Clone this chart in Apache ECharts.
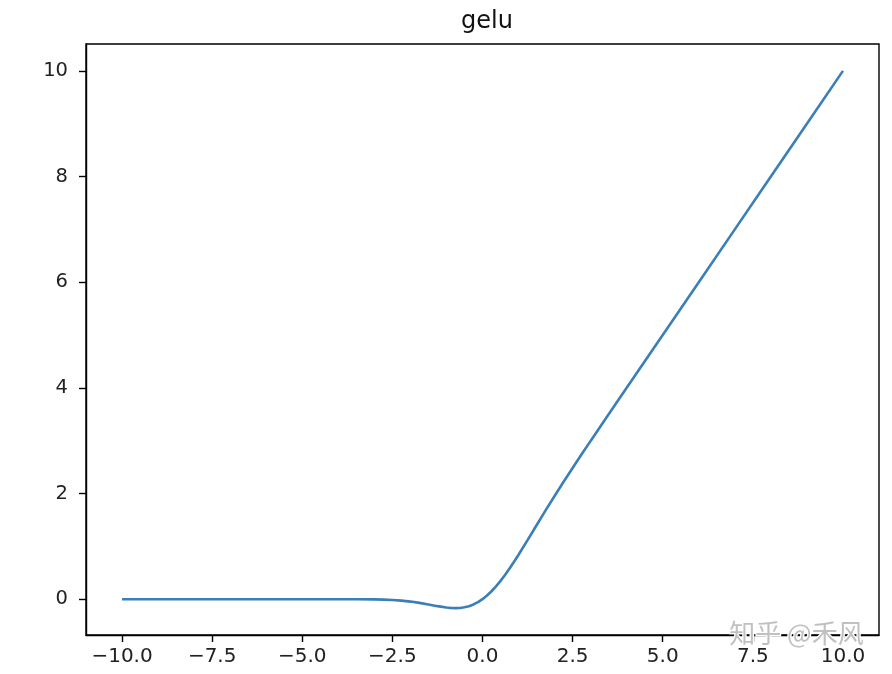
<!DOCTYPE html>
<html>
<head>
<meta charset="utf-8">
<script src="https://cdn.jsdelivr.net/npm/echarts@6/dist/echarts.min.js"></script>
<style>
html,body{margin:0;padding:0;background:#fff;}
#chart{width:892px;height:674px;}
</style>
</head>
<body>
<div id="chart"></div>
<script>
// Values (gelu curve)
const xValues = [-10, -9, -8, -7, -6, -5, -4, -3.5, -3, -2.75, -2.5, -2.25, -2, -1.75, -1.5, -1.25, -1, -0.875, -0.75, -0.625, -0.5, -0.375, -0.25, -0.125, 0, 0.125, 0.25, 0.375, 0.5, 0.625, 0.75, 0.875, 1, 1.25, 1.5, 1.75, 2, 2.25, 2.5, 2.75, 3, 3.5, 4, 5, 6, 7, 8, 9, 10];
const yValues = [0, 0, 0, 0, 0, 0, -0.0001, -0.0008, -0.004, -0.008, -0.0155, -0.0275, -0.0455, -0.070, -0.100, -0.132, -0.159, -0.167, -0.170, -0.166, -0.154, -0.133, -0.100, -0.056, 0, 0.069, 0.150, 0.242, 0.346, 0.459, 0.580, 0.708, 0.841, 1.118, 1.400, 1.680, 1.954, 2.222, 2.484, 2.742, 2.996, 3.499, 4.000, 5, 6, 7, 8, 9, 10];
const xTicks = [-10, -7.5, -5, -2.5, 0, 2.5, 5, 7.5, 10];
const yTicks = [0, 2, 4, 6, 8, 10];
const titleText = 'gelu';
const watermark = '知乎 @禾风';

const seriesData = xValues.map((x, i) => [x, yValues[i]]);
const fmt = (v, d) => { const s = Math.abs(v).toFixed(d); return v < 0 ? '\u2212' + s : s; };

const chart = echarts.init(document.getElementById('chart'));
chart.setOption({
  animation: false,
  backgroundColor: '#fff',
  title: {
    text: titleText, left: 482, top: 5, textAlign: 'center',
    textStyle: { fontFamily: 'DejaVu Sans', fontSize: 24, fontWeight: 'normal', color: '#111' }
  },
  grid: {
    left: 86, right: 13, top: 44, bottom: 39,
    show: true, borderColor: '#000', borderWidth: 1.4, backgroundColor: 'transparent'
  },
  xAxis: {
    type: 'value', min: -11, max: 11,
    axisLine: { show: true, onZero: false, lineStyle: { color: '#000', width: 1.4 } },
    axisTick: { show: true, inside: false, length: 7, customValues: xTicks, lineStyle: { color: '#000', width: 1.4 } },
    axisLabel: { customValues: xTicks, margin: 12, fontFamily: 'DejaVu Sans', fontSize: 20, color: '#222',
      formatter: v => fmt(v, 1) },
    splitLine: { show: false }
  },
  yAxis: {
    type: 'value', min: -0.678, max: 10.5085,
    axisLine: { show: true, onZero: false, lineStyle: { color: '#000', width: 1.4 } },
    axisTick: { show: true, inside: false, length: 7, customValues: yTicks, lineStyle: { color: '#000', width: 1.4 } },
    axisLabel: { customValues: yTicks, margin: 18, fontFamily: 'DejaVu Sans', fontSize: 19.5, color: '#222',
      formatter: v => fmt(v, 0) },
    splitLine: { show: false }
  },
  series: [{
    type: 'line', data: seriesData, showSymbol: false, smooth: false,
    lineStyle: { color: '#3a7fb8', width: 2.6 }
  }],
  graphic: [{
    type: 'text', left: 728, top: 619, z: 100,
    style: { text: watermark, fontFamily: 'Noto Sans CJK SC', fontSize: 26, fill: 'rgba(185,185,185,0.9)',
      stroke: '#fff', lineWidth: 2.5 }
  }]
});
</script>
</body>
</html>
